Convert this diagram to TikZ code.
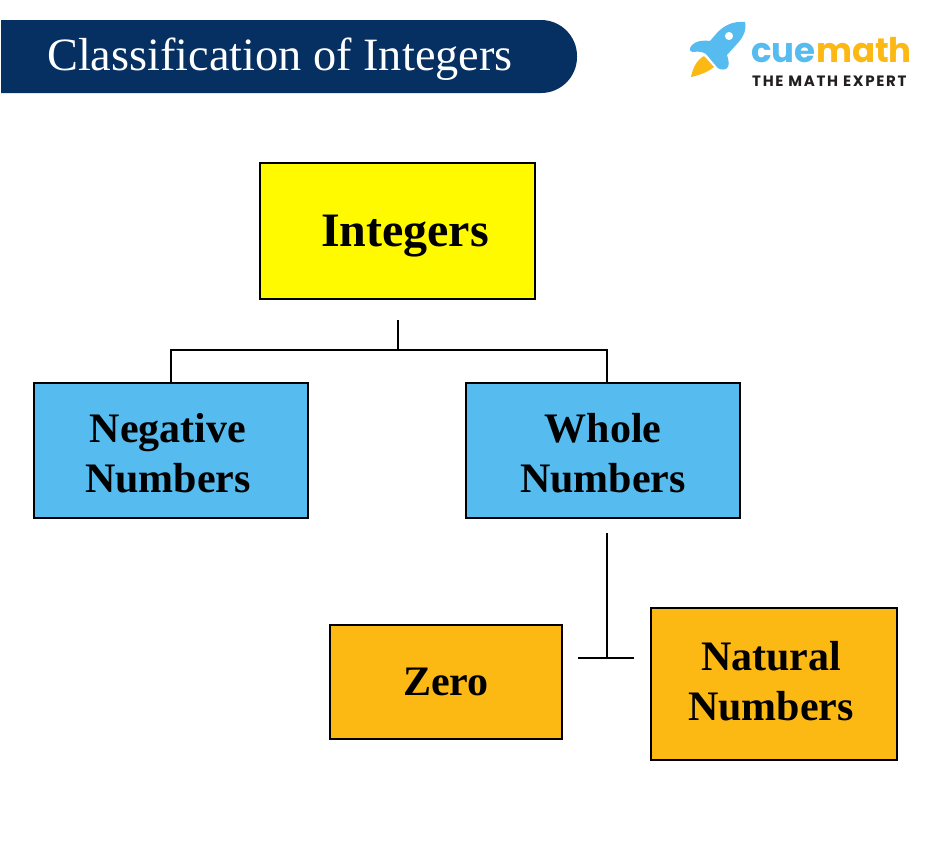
\documentclass[tikz,border=0pt]{standalone}
\usepackage{fontspec}
\setmainfont{Liberation Serif}
\newfontfamily\logofont{Poppins}
\usetikzlibrary{positioning}
\definecolor{navybar}{HTML}{062F62}
\definecolor{skybox}{HTML}{56BBEE}
\definecolor{amberbox}{HTML}{FDB913}
\definecolor{lemonbox}{HTML}{FFFA00}
\definecolor{inkdark}{HTML}{231F20}
\tikzset{
  box/.style={draw=black, line width=1.5pt, font=\fontsize{42}{50}\selectfont\bfseries, align=center, inner sep=0pt},
  link/.style={draw=black, line width=1.5pt},
}
\begin{document}
\begin{tikzpicture}[x=1pt,y=-1pt]
      \useasboundingbox (0,0) rectangle (926,857);

      % title bar
      \fill[navybar] (1,20) [rounded corners=36] -- (577,20) -- (577,93) [sharp corners] -- (1,93) -- cycle;
      \node(TITLE)[text=white, anchor=base west, inner sep=0pt, font=\fontsize{46.3}{54}\selectfont] at (47,70) {Classification of Integers};

      % logo
      \fill[skybox, even odd rule] (745,22) .. controls (733,21) and (724,25) .. (716,34) -- (710,41) .. controls (702,40) and (696,41) .. (692,45) .. controls (689,48) and (689,52) .. (693,52) .. controls (699,51) and (703,52) .. (706,54) -- (716,66) .. controls (719,70) and (722,70) .. (726,69) .. controls (730,67) and (729,61) .. (727,55) -- (736,45) .. controls (743,38) and (747,30) .. (745,22) -- cycle
        (729,36) circle [radius=4.2];
      \fill[amberbox] (691,77) .. controls (693,67) and (697,60) .. (704,56) -- (714,67) .. controls (708,72) and (700,75) .. (691,77) -- cycle;
      \node(CUE)[text=skybox, anchor=base west, inner sep=0pt, font=\logofont\bfseries\fontsize{34}{40}\selectfont] at (751,62) {cue};
      \node(MATH)[text=amberbox, anchor=base west, inner sep=0pt, font=\logofont\bfseries\fontsize{34}{40}\selectfont] at (CUE.base east) {math};
      \node(SLOGAN)[text=inkdark, anchor=base west, inner sep=0pt, font=\logofont\bfseries\fontsize{15}{18}\selectfont\addfontfeature{LetterSpace=11.3}] at (752,86) {THE MATH EXPERT};

      % boxes
      \node(INT)[box, fill=lemonbox, minimum width=275, text height=83, text depth=53, font=\fontsize{48}{56}\selectfont\bfseries] at (397.5,231) {\hspace{15pt}Integers};
      \node(NEG)[box, fill=skybox, minimum width=274, text height=109.5, text depth=25.5] at (171,450.5) {\hspace{-6pt}Negative\\\hspace{-6pt}Numbers};
      \node(WHOLE)[box, fill=skybox, minimum width=274, text height=109.5, text depth=25.5] at (603,450.5) {Whole\\Numbers};
      \node(ZERO)[box, fill=amberbox, minimum width=232, minimum height=114] at (446,682) {Zero};
      \node(NAT)[box, fill=amberbox, minimum width=246, text height=112.5, text depth=39.5] at (774,684) {\hspace{-6pt}Natural\\\hspace{-6pt}Numbers};

      % connectors
      \coordinate(TOPSTUB) at (398,320);
      \coordinate(TOPJOIN) at (398,350);
      \coordinate(WHOLEIN) at (607,383);
      \coordinate(WHOLEOUT) at (607,533);
      \coordinate(LOWJOIN) at (607,658);
      \coordinate(LOWLEFT) at (578,658);
      \coordinate(LOWRIGHT) at (634,658);

      \draw[link] (TOPSTUB) -- (TOPJOIN);
      \draw[link] (NEG.north) |- (TOPJOIN) -| (WHOLEIN);
      \draw[link] (WHOLEOUT) -- (LOWJOIN);
      \draw[link] (LOWLEFT) -- (LOWRIGHT);
\end{tikzpicture}
\end{document}
